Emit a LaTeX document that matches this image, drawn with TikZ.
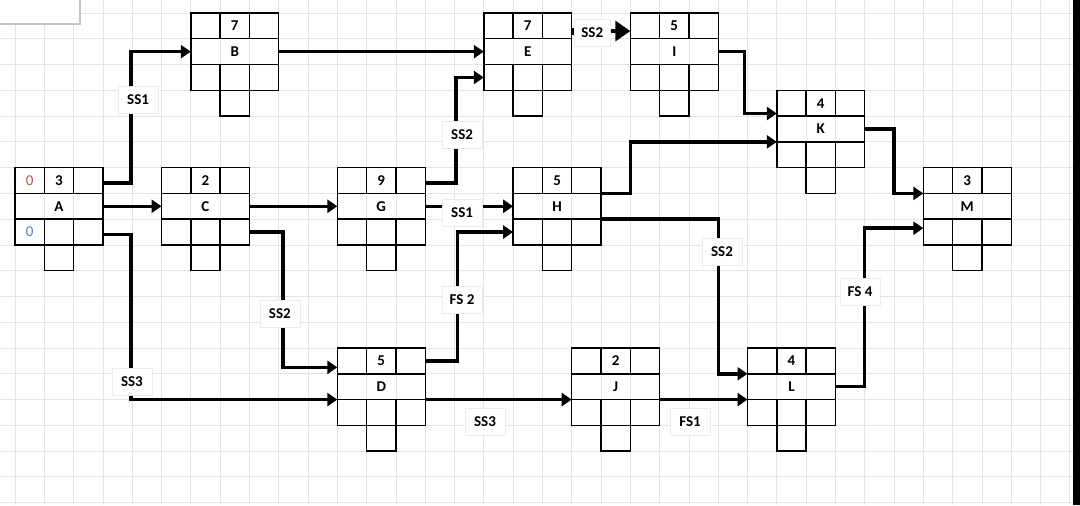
\documentclass[tikz,border=0pt]{standalone}
\usepackage{fontspec}
\setmainfont{Carlito}
\usetikzlibrary{calc,arrows.meta}
\definecolor{gridgray}{RGB}{228,228,228}
\definecolor{zerored}{RGB}{192,80,77}
\definecolor{zeroblue}{RGB}{79,129,189}
\newcommand\cellw{29.3pt}
\newcommand\cellh{25.77pt}

\begin{document}
\begin{tikzpicture}[x=\cellw,y=-\cellh,
    font=\fontsize{15}{15}\selectfont\bfseries,
    actbox/.style={draw,line width=1.4pt,anchor=north west,inner sep=0pt,outer sep=0pt,
      minimum width=3*\cellw,minimum height=3*\cellh},
    cell/.style={line width=1.4pt},
    conn/.style={line width=3.4pt,-{Triangle[length=10pt,width=13pt]}},
    lbl/.style={fill=white,draw=gray!15,line width=.6pt,inner sep=1pt,
      minimum width=40pt,minimum height=27pt},
    gridline/.style={gridgray,line width=.8pt}]

  \useasboundingbox (-0.512,-0.505) rectangle (36.348,19.092);

  % sheet grid
  \foreach \i in {0,...,36}
    \draw[gridline] (\i,-0.505) -- (\i,19.092);
  \foreach \j in {0,...,19}
    \draw[gridline] (-0.512,\j) -- (36.348,\j);
  \fill[white] (-0.512,-0.505) rectangle (2.22,0.43);
  \draw[gray!45,line width=1.5pt] (-0.512,0.43) -- (2.22,0.43) -- (2.22,-0.505);
  \fill[black] (36.11,-0.505) rectangle (36.348,19.092);

  % activity boxes
  \foreach \n/\c/\r/\d in {A/0/6/3, B/6/0/7, C/5/6/2, D/11/13/5, E/16/0/7, G/11/6/9,
                           H/17/6/5, I/21/0/5, J/19/13/2, K/26/3/4, L/25/13/4, M/31/6/3} {
    \node[actbox] (\n) at (\c,\r) {\n};
    \draw[cell] (\c,\r+1) -- ++(3,0) (\c,\r+2) -- ++(3,0)
      (\c+1,\r) -- ++(0,1) (\c+2,\r) -- ++(0,1)
      (\c+1,\r+2) -- ++(0,2) -- ++(1,0) -- ++(0,-2);
    \node (dur\n) at (\c+1.5,\r+.5) {\d};
  }
  \node[text=zerored,font=\fontsize{15}{15}\selectfont] (es) at (0.5,6.5) {0};
  \node[text=zeroblue,font=\fontsize{15}{15}\selectfont] (ls) at (0.5,8.5) {0};

  % links
  \draw[conn] ($(A.north east)+(0,.6)$) -| (3.96,1.5) -- (B.west);
  \draw[conn] (A.east) -- (C.west);
  \draw[conn] ($(A.north east)+(0,2.6)$) -| (3.96,15) -- ($(D.north west)+(0,2)$);
  \draw[conn] (B.east) -- (E.west);
  \draw[conn] ($(G.north east)+(0,.6)$) -| (15.05,2.5) -- ($(E.north west)+(0,2.5)$);
  \draw[line width=3.4pt,{Square[length=5pt,width=7pt]}-{Triangle[length=15pt,width=20pt]}]
    ($(E.north east)+(0,.7)$) -- ($(I.north west)+(0,.7)$);
  \draw[conn] (C.east) -- (G.west);
  \draw[conn] ($(C.north east)+(0,2.5)$) -| (9.15,13.75) -- ($(D.north west)+(0,.75)$);
  \draw[conn] (G.east) -- (H.west);
  \draw[conn] ($(D.north east)+(0,.5)$) -| (15.1,8.5) -- ($(H.north west)+(0,2.5)$);
  \draw[conn] ($(D.north east)+(0,2)$) -- ($(J.north west)+(0,2)$);
  \draw[conn] ($(H.north east)+(0,1)$) -| (21,5) -- ($(K.north west)+(0,2)$);
  \draw[conn] (I.east) -| (24.9,3.9) -- ($(K.north west)+(0,.9)$);
  \draw[conn] ($(H.north east)+(0,2)$) -| (24,14) -- ($(L.north west)+(0,1)$);
  \draw[conn] ($(J.north east)+(0,2)$) -- ($(L.north west)+(0,2)$);
  \draw[conn] (K.east) -| (30,7) -- ($(M.north west)+(0,1)$);
  \draw[conn] (L.east) -| (29,8.35) -- ($(M.north west)+(0,2.35)$);

  % lag labels
  \node[lbl] (lab) at (4.2,3.35) {SS1};
  \node[lbl] (lge) at (15.26,4.73) {SS2};
  \node[lbl,minimum width=36pt] (lei) at (19.7,0.78) {SS2};
  \node[lbl] (lgh) at (15.26,7.76) {SS1};
  \node[lbl] (lcd) at (9.04,11.68) {SS2};
  \node[lbl] (ldh) at (15.26,11.14) {FS 2};
  \node[lbl] (lad) at (3.99,14.3) {SS3};
  \node[lbl] (ldj) at (16.04,15.87) {SS3};
  \node[lbl] (ljl) at (23.04,15.87) {FS1};
  \node[lbl] (lhl) at (24.13,9.27) {SS2};
  \node[lbl] (llm) at (28.84,10.83) {FS 4};

\end{tikzpicture}
\end{document}
